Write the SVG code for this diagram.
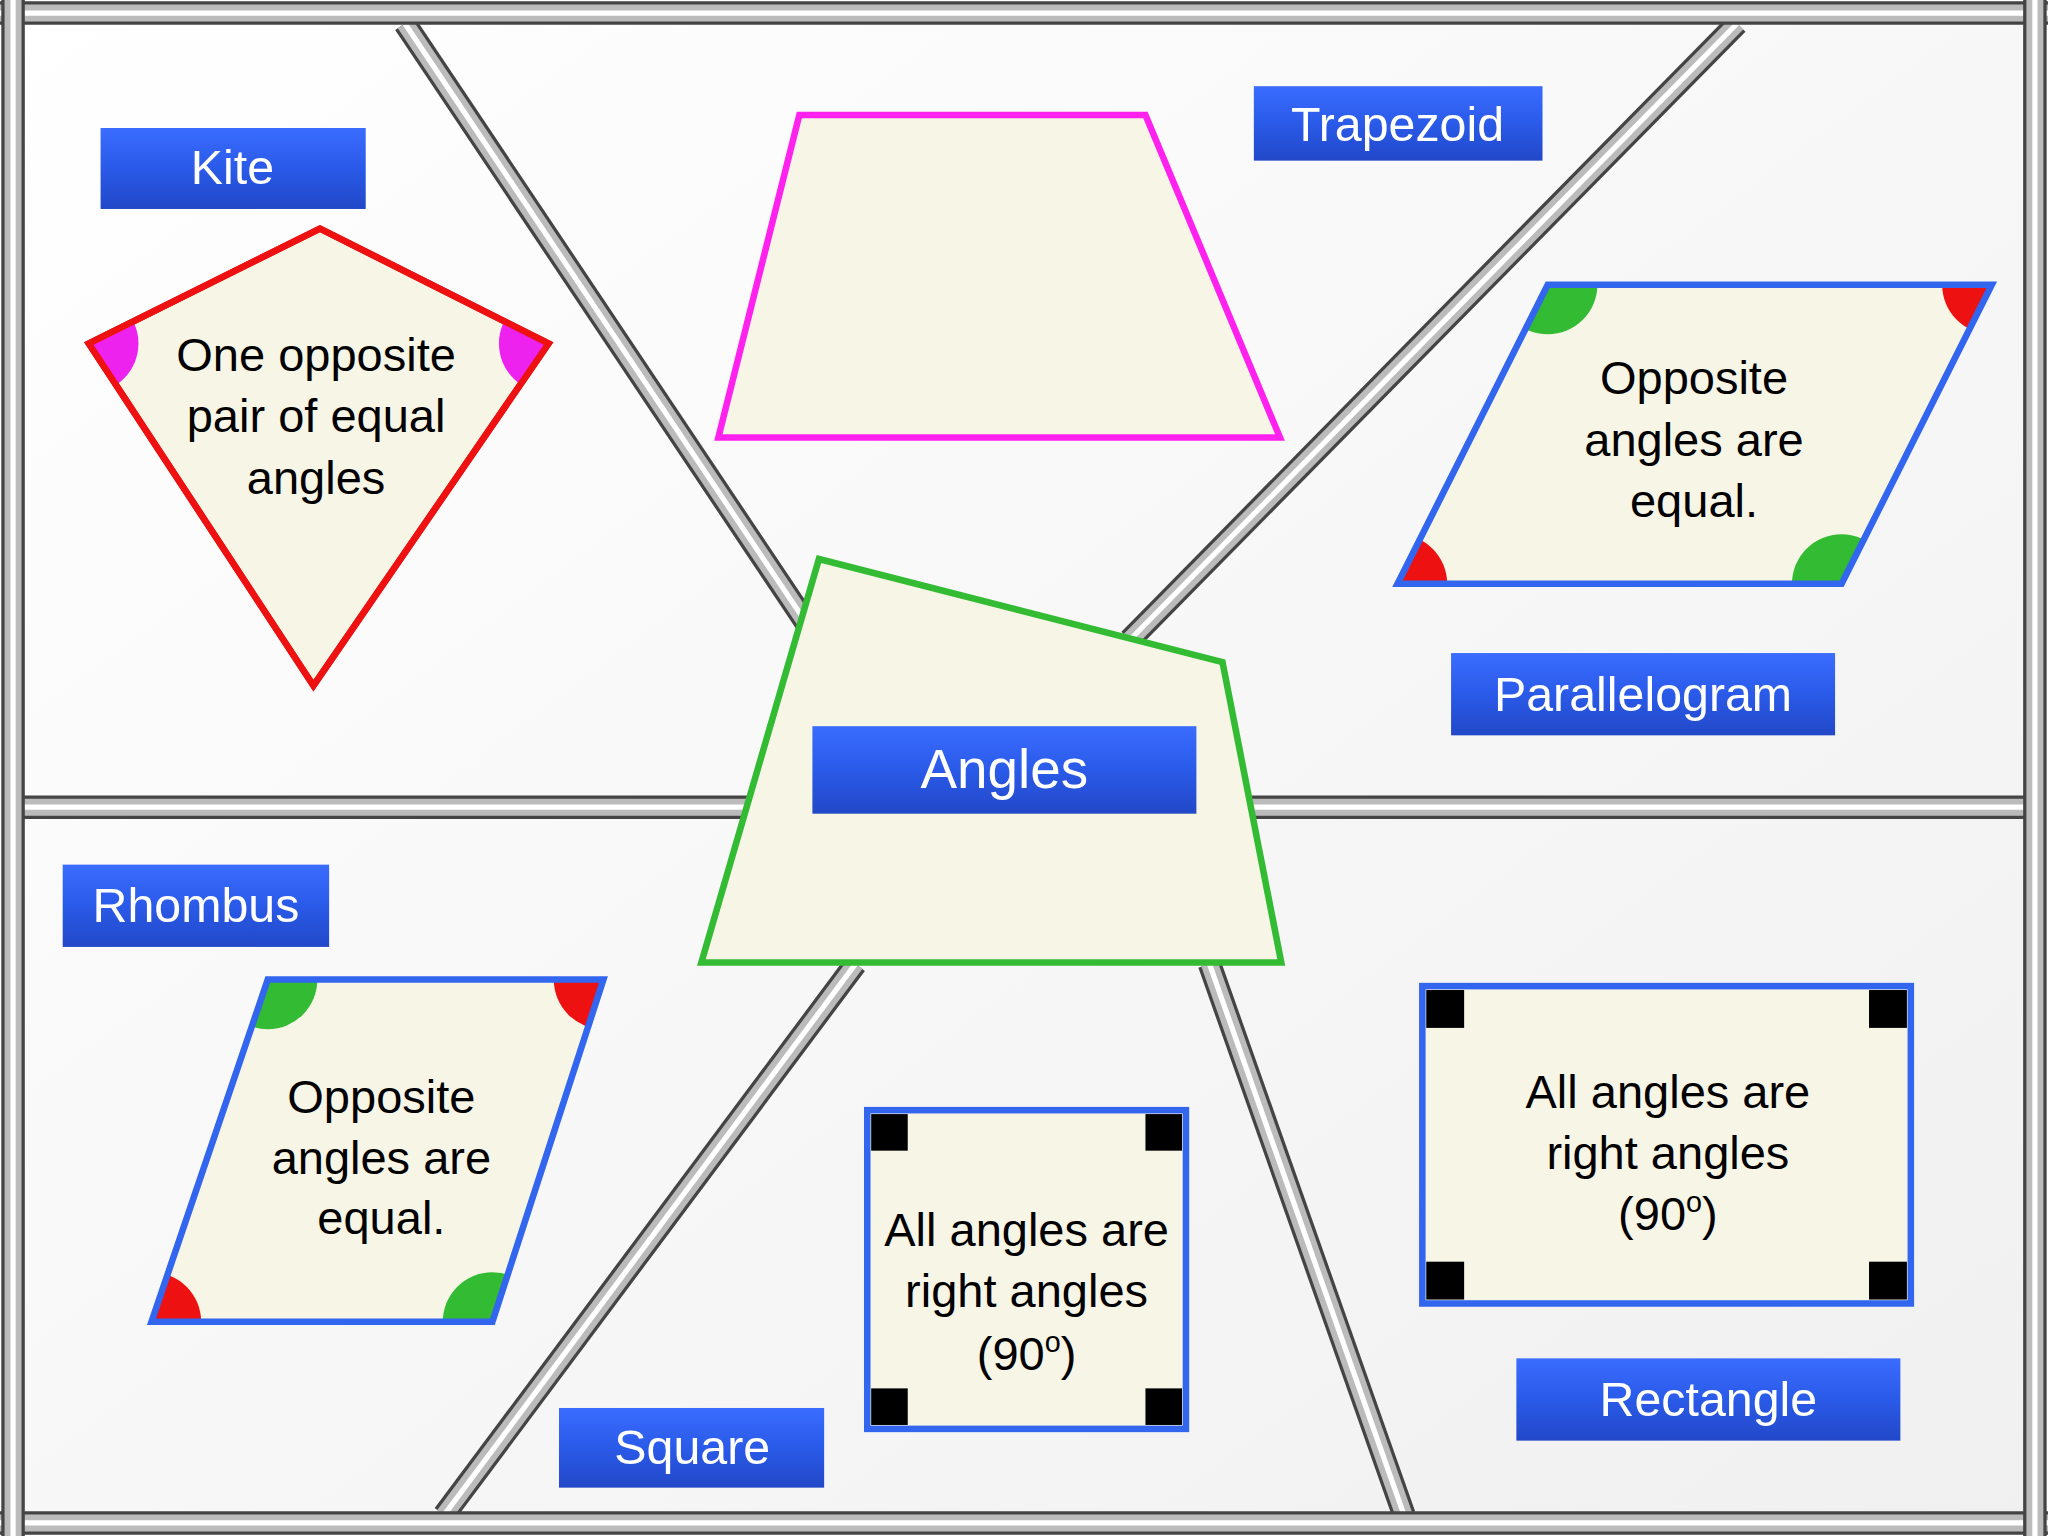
<svg xmlns="http://www.w3.org/2000/svg" width="2048" height="1536" viewBox="0 0 2048 1536">
<defs>
<linearGradient id="lb" x1="0" y1="0" x2="0" y2="1"><stop offset="0" stop-color="#3a6cff"/><stop offset="0.5" stop-color="#2a5ae8"/><stop offset="1" stop-color="#2248c8"/></linearGradient>
<linearGradient id="bg" x1="0" y1="0" x2="1" y2="1"><stop offset="0" stop-color="#ffffff"/><stop offset="1" stop-color="#f0f0f0"/></linearGradient>
<clipPath id="cpPar"><polygon points="1185,218 1525,218 1410,447 1070,447"/></clipPath>
<clipPath id="cpRh"><polygon points="205,750 462,750 377,1012 116,1012"/></clipPath>
<clipPath id="cpKite"><polygon points="245,175 420,263 240,525 68,263"/></clipPath>
<style>
.bo{stroke:#444;stroke-width:18;stroke-linecap:butt}
.bm{stroke:#bbb;stroke-width:13}
.bi{stroke:#fff;stroke-width:4}
.lbl rect{fill:url(#lb)}
.lbl text{fill:#fff;font-family:"Liberation Sans",Arial,sans-serif;font-size:37px;text-anchor:middle}
.shp{fill:#f7f5e6;stroke-width:5;stroke-linejoin:miter}
.tx{fill:#000;font-family:"Liberation Sans",Arial,sans-serif;font-size:36px;text-anchor:middle}
</style>
</defs>
<rect width="2048" height="1536" fill="#fff"/>
<g transform="scale(1.3061)">
<rect x="10" y="10" width="1548" height="1155" fill="url(#bg)"/>
<g id="bars">
<g><line class="bo" x1="310" y1="18" x2="618" y2="478"/><line class="bm" x1="310" y1="18" x2="618" y2="478"/><line class="bi" x1="310" y1="18" x2="618" y2="478"/></g>
<g><line class="bo" x1="1330" y1="18" x2="865" y2="490"/><line class="bm" x1="1330" y1="18" x2="865" y2="490"/><line class="bi" x1="1330" y1="18" x2="865" y2="490"/></g>
<g><line class="bo" x1="655" y1="738" x2="340" y2="1160"/><line class="bm" x1="655" y1="738" x2="340" y2="1160"/><line class="bi" x1="655" y1="738" x2="340" y2="1160"/></g>
<g><line class="bo" x1="926" y1="738" x2="1075" y2="1160"/><line class="bm" x1="926" y1="738" x2="1075" y2="1160"/><line class="bi" x1="926" y1="738" x2="1075" y2="1160"/></g>
<g><line class="bo" x1="10" y1="618" x2="1558" y2="618"/><line class="bm" x1="10" y1="618" x2="1558" y2="618"/><line class="bi" x1="10" y1="618" x2="1558" y2="618"/></g>
<g><line class="bo" x1="0" y1="10" x2="1568" y2="10"/><line class="bm" x1="0" y1="10" x2="1568" y2="10"/><line class="bi" x1="0" y1="10" x2="1568" y2="10"/></g>
<g><line class="bo" x1="0" y1="1166" x2="1568" y2="1166"/><line class="bm" x1="0" y1="1166" x2="1568" y2="1166"/><line class="bi" x1="0" y1="1166" x2="1568" y2="1166"/></g>
<g><line class="bo" x1="10" y1="0" x2="10" y2="1176"/><line class="bm" x1="10" y1="0" x2="10" y2="1176"/><line class="bi" x1="10" y1="0" x2="10" y2="1176"/></g>
<g><line class="bo" x1="1558" y1="0" x2="1558" y2="1176"/><line class="bm" x1="1558" y1="0" x2="1558" y2="1176"/><line class="bi" x1="1558" y1="0" x2="1558" y2="1176"/></g>
</g>
<g id="kite">
<polygon class="shp" stroke="#ee1111" points="245,175 420,263 240,525 68,263"/>
<g clip-path="url(#cpKite)"><circle cx="68" cy="263" r="38" fill="#ee22ee"/><circle cx="420" cy="263" r="38" fill="#ee22ee"/></g>
<polygon fill="none" stroke="#ee1111" stroke-width="5" points="245,175 420,263 240,525 68,263"/>
<text class="tx" x="242" y="284">One opposite</text><text class="tx" x="242" y="331">pair of equal</text><text class="tx" x="242" y="378">angles</text>
</g>
<g id="kite-label" class="lbl"><rect x="77" y="98" width="203" height="62"/><text x="178" y="141">Kite</text></g>
<g id="trapezoid"><polygon class="shp" stroke="#ff22ee" points="612,88 877,88 980,335 550,335"/></g>
<g id="trapezoid-label" class="lbl"><rect x="960" y="66" width="221" height="57"/><text x="1070" y="108">Trapezoid</text></g>
<g id="parallelogram">
<polygon class="shp" stroke="none" points="1185,218 1525,218 1410,447 1070,447"/>
<g clip-path="url(#cpPar)"><circle cx="1185" cy="218" r="38" fill="#33bb33"/><circle cx="1525" cy="218" r="38" fill="#ee1111"/><circle cx="1070" cy="447" r="38" fill="#ee1111"/><circle cx="1410" cy="447" r="38" fill="#33bb33"/></g>
<polygon fill="none" stroke="#3366ee" stroke-width="5" points="1185,218 1525,218 1410,447 1070,447"/>
<text class="tx" x="1297" y="302">Opposite</text><text class="tx" x="1297" y="349">angles are</text><text class="tx" x="1297" y="396">equal.</text>
</g>
<g id="parallelogram-label" class="lbl"><rect x="1111" y="500" width="294" height="63"/><text x="1258" y="544">Parallelogram</text></g>
<g id="angles"><polygon class="shp" stroke="#33bb33" points="627,428 936,507 981,737 537,737"/></g>
<g id="angles-label" class="lbl"><rect x="622" y="556" width="294" height="67"/><text x="769" y="603" style="font-size:42px">Angles</text></g>
<g id="rhombus-label" class="lbl"><rect x="48" y="662" width="204" height="63"/><text x="150" y="706">Rhombus</text></g>
<g id="rhombus">
<polygon class="shp" stroke="none" points="205,750 462,750 377,1012 116,1012"/>
<g clip-path="url(#cpRh)"><circle cx="205" cy="750" r="38" fill="#33bb33"/><circle cx="462" cy="750" r="38" fill="#ee1111"/><circle cx="116" cy="1012" r="38" fill="#ee1111"/><circle cx="377" cy="1012" r="38" fill="#33bb33"/></g>
<polygon fill="none" stroke="#3366ee" stroke-width="5" points="205,750 462,750 377,1012 116,1012"/>
<text class="tx" x="292" y="852">Opposite</text><text class="tx" x="292" y="899">angles are</text><text class="tx" x="292" y="945">equal.</text>
</g>
<g id="square">
<rect class="shp" stroke="#3366ee" x="664" y="850" width="244" height="244"/>
<rect x="667" y="853" width="28" height="28"/><rect x="877" y="853" width="28" height="28"/><rect x="667" y="1063" width="28" height="28"/><rect x="877" y="1063" width="28" height="28"/>
<text class="tx" x="786" y="954">All angles are</text><text class="tx" x="786" y="1001">right angles</text><text class="tx" x="786" y="1049">(90<tspan font-size="22" dy="-14">o</tspan><tspan dy="14">)</tspan></text>
</g>
<g id="square-label" class="lbl"><rect x="428" y="1078" width="203" height="61"/><text x="530" y="1121">Square</text></g>
<g id="rectangle">
<rect class="shp" stroke="#3366ee" x="1089" y="755" width="374" height="243"/>
<rect x="1092" y="758" width="29" height="29"/><rect x="1431" y="758" width="29" height="29"/><rect x="1092" y="966" width="29" height="29"/><rect x="1431" y="966" width="29" height="29"/>
<text class="tx" x="1277" y="848">All angles are</text><text class="tx" x="1277" y="895">right angles</text><text class="tx" x="1277" y="942">(90<tspan font-size="22" dy="-14">o</tspan><tspan dy="14">)</tspan></text>
</g>
<g id="rectangle-label" class="lbl"><rect x="1161" y="1040" width="294" height="63"/><text x="1308" y="1084">Rectangle</text></g>
</g>
</svg>
